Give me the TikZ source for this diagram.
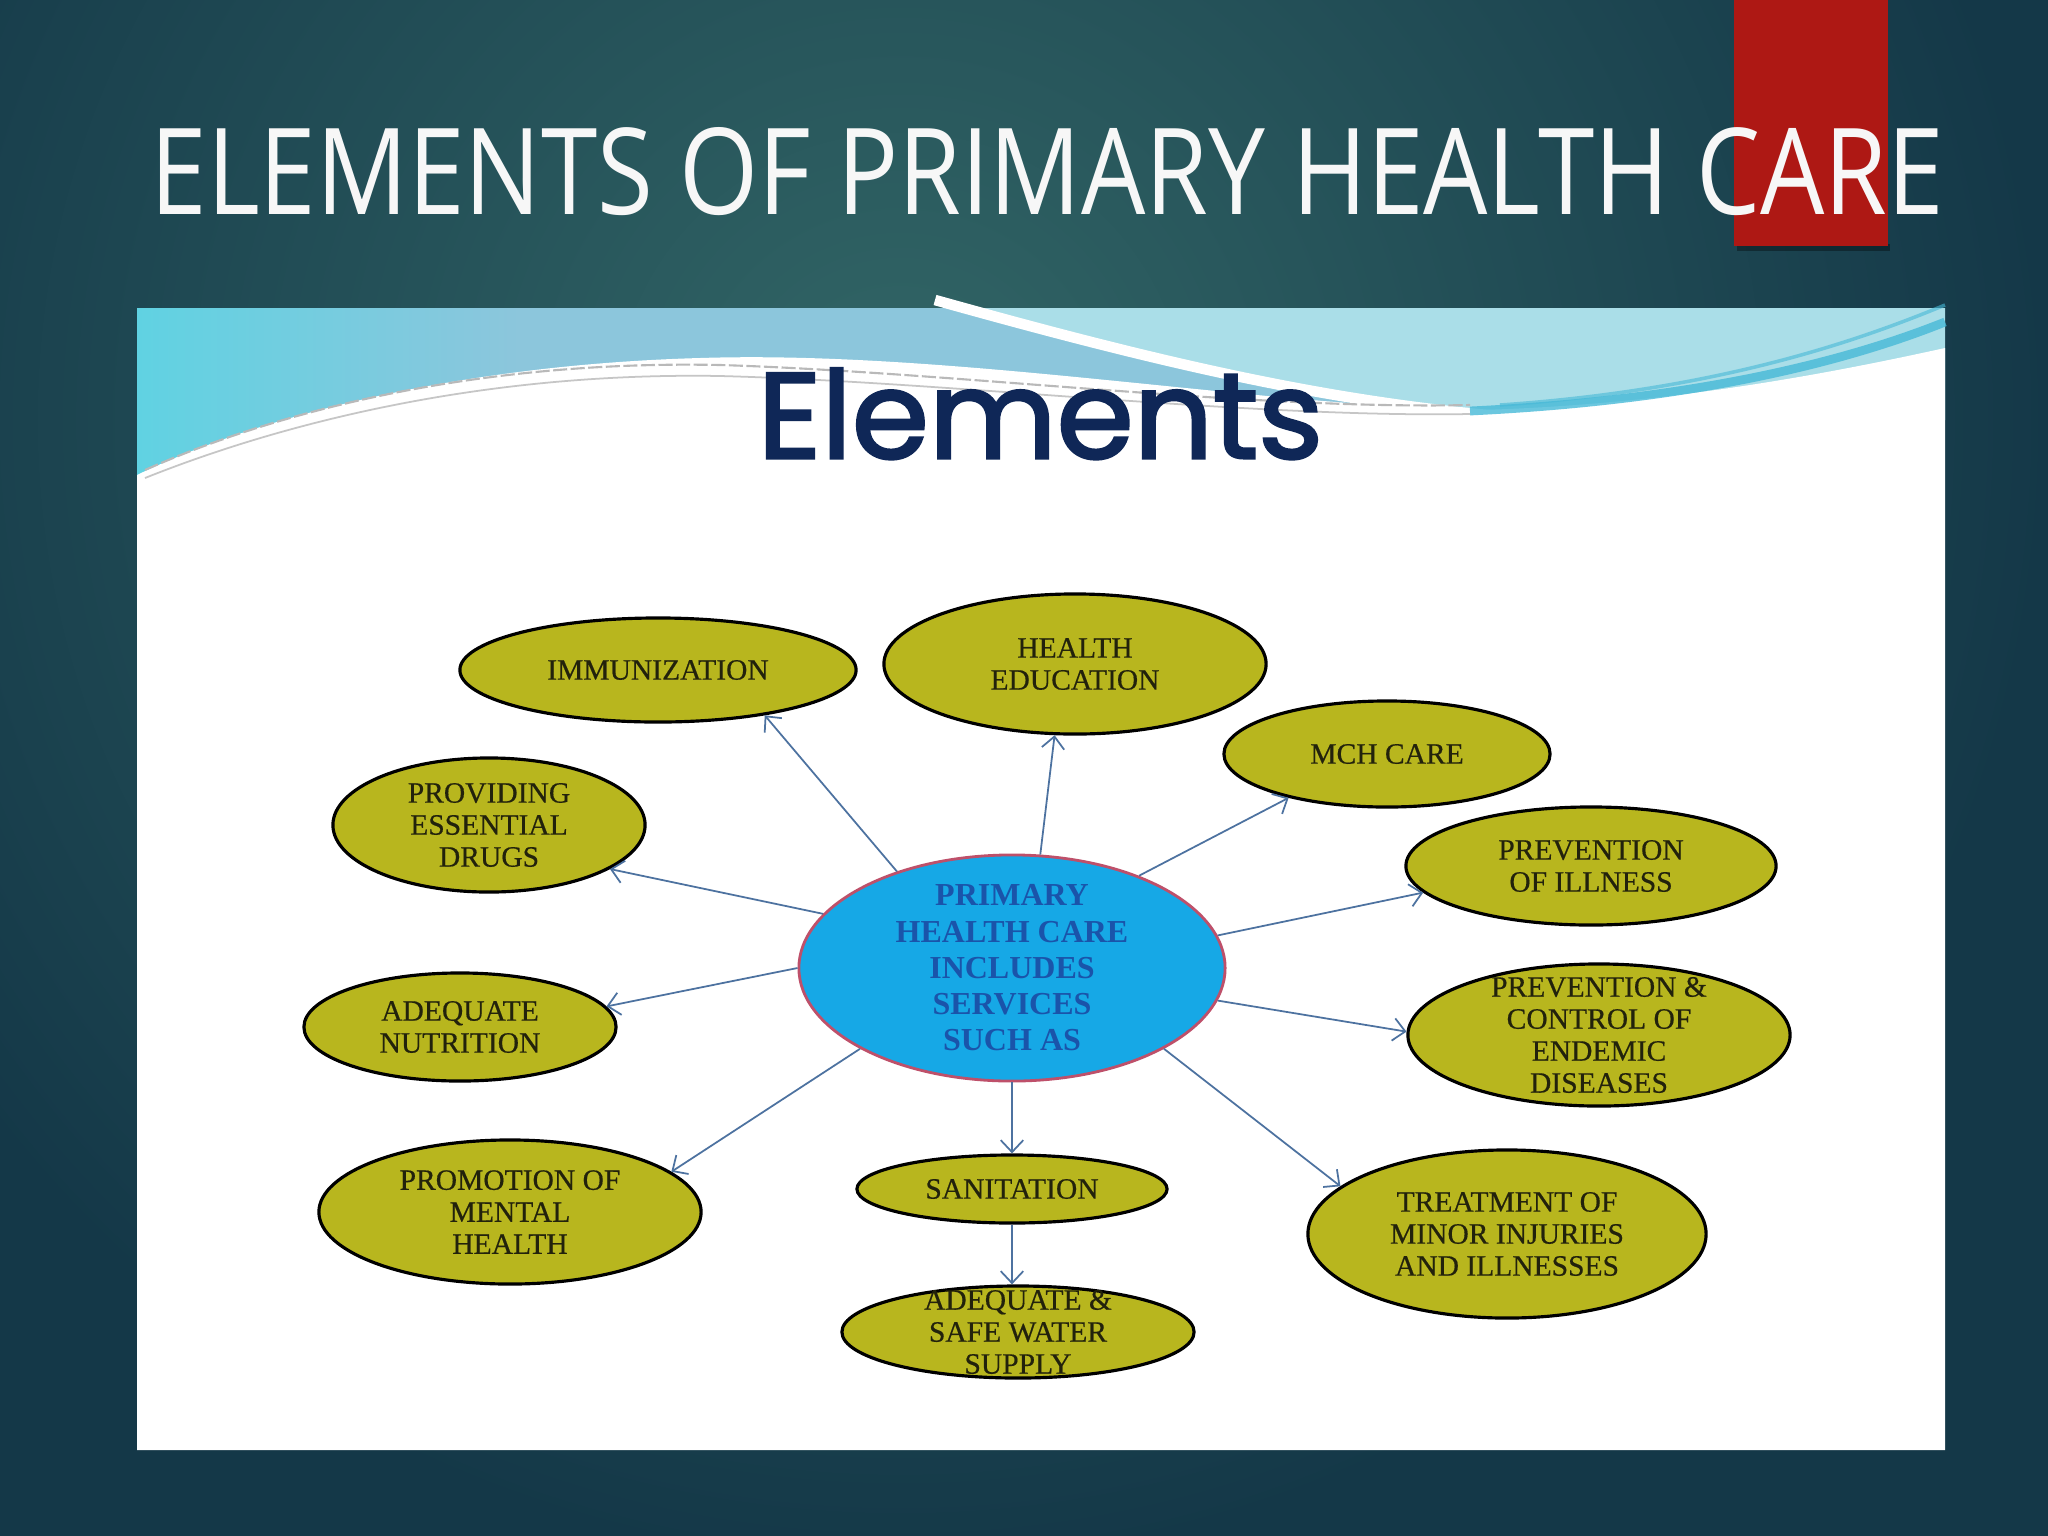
\documentclass[tikz,border=0pt]{standalone}
\usepackage{fontspec}
\setmainfont{Liberation Serif}
\newfontfamily\boxfont{Liberation Serif}[FakeBold=0.5]
\newfontfamily\titlefont{Open Sans}
\newfontfamily\elemfont{Poppins}[FakeBold=2.2]
\usetikzlibrary{shapes.geometric,arrows.meta}
\definecolor{bgdark}{RGB}{20,56,72}
\definecolor{bglight}{RGB}{50,102,102}
\definecolor{redbar}{RGB}{174,24,20}
\definecolor{olive}{RGB}{184,182,30}
\definecolor{cyanfill}{RGB}{22,168,230}
\definecolor{cborder}{RGB}{190,80,106}
\definecolor{ctext}{RGB}{26,84,170}
\definecolor{arrowc}{RGB}{77,114,160}
\definecolor{navy}{RGB}{15,39,87}
\definecolor{waveblue}{RGB}{140,198,220}
\definecolor{wavecyan}{RGB}{170,222,232}
\definecolor{wavetur}{RGB}{96,210,226}
\definecolor{streak}{RGB}{70,185,215}
\definecolor{etext}{RGB}{34,34,12}
\begin{document}
\begin{tikzpicture}[x=0.01cm,y=-0.01cm,
  elem/.style={ellipse,draw=black,line width=0.9pt,fill=olive,inner sep=0pt},
  elabel/.style={inner sep=0pt,align=center,text=etext,font=\fontsize{8.4}{9.1}\boxfont},
  hub/.style={ellipse,draw=cborder,line width=0.8pt,fill=cyanfill,inner sep=0pt},
  hlabel/.style={inner sep=0pt,align=center,text=ctext,font=\fontsize{9.1}{10.3}\selectfont\bfseries},
  link/.style={draw=arrowc,line width=0.5pt,-{Straight Barb[length=3.4pt,width=6.4pt]}}]
\useasboundingbox (0,0) rectangle (2048,1536);
% background
\fill[bgdark] (0,0) rectangle (2048,1536);
\begin{scope}
\clip (0,0) rectangle (2048,1536);
\shade[inner color=bglight,outer color=bgdark] (900,420) circle (1150);
\end{scope}
% red bar
\fill[black,opacity=0.35] (1737,244) rectangle (1890,251);
\fill[redbar] (1734,0) rectangle (1888,246);
% title
\node[anchor=south west,inner sep=0pt,text=white!94!gray] (title) at (150,216)
  {\resizebox{17.92cm}{0.87cm}{\titlefont ELEMENTS OF PRIMARY HEALTH CARE}};
% panel
\fill[waveblue] (137,308) rectangle (1945,1450);
\shade[left color=wavetur,right color=waveblue] (137,308) rectangle (520,480);
\fill[wavecyan] (950,308) .. controls (1150,360) and (1350,410) .. (1560,420) -- (1945,420) -- (1945,308) -- cycle;
\draw[white,line width=3pt] (935,300) .. controls (1150,360) and (1350,410) .. (1560,420);
\fill[white] (137,475) .. controls (250,420) and (450,365) .. (700,358)
  .. controls (950,350) and (1250,405) .. (1480,410)
  .. controls (1650,405) and (1800,380) .. (1945,348) -- (1945,1450) -- (137,1450) -- cycle;
\draw[streak,line width=2.5pt,opacity=0.8] (1470,411) .. controls (1700,400) and (1850,360) .. (1945,322);
\draw[streak,line width=1pt,opacity=0.6] (1500,405) .. controls (1720,390) and (1860,340) .. (1945,305);
\draw[gray!55,line width=0.6pt,dash pattern=on 4pt off 1pt] (145,470) .. controls (280,410) and (480,360) .. (720,365)
  .. controls (950,372) and (1250,410) .. (1470,405);
\draw[gray!45,line width=0.5pt] (145,478) .. controls (290,420) and (490,372) .. (720,376)
  .. controls (950,382) and (1250,418) .. (1470,414);
% heading
\node[anchor=south west,inner sep=0pt,text=navy] (head) at (757,460)
  {\resizebox{5.65cm}{0.9cm}{\elemfont Elements}};
% ellipses
\node[hub,minimum width=4.26cm,minimum height=2.26cm] (hub) at (1012,968) {};
\node[hlabel] (hubt) at (hub) {PRIMARY\\HEALTH CARE\\INCLUDES\\SERVICES\\SUCH AS};
\node[elem,minimum width=3.96cm,minimum height=1.04cm] (imm) at (658,670) {};
\node[elabel] (immt) at (imm) {IMMUNIZATION};
\node[elem,minimum width=3.82cm,minimum height=1.40cm] (he) at (1075,664) {};
\node[elabel] (het) at (he) {HEALTH\\EDUCATION};
\node[elem,minimum width=3.26cm,minimum height=1.06cm] (mch) at (1387,754) {};
\node[elabel] (mcht) at (mch) {MCH CARE};
\node[elem,minimum width=3.70cm,minimum height=1.18cm] (pi) at (1591,866) {};
\node[elabel] (pit) at (pi) {PREVENTION\\OF ILLNESS};
\node[elem,minimum width=3.82cm,minimum height=1.42cm] (pc) at (1599,1035) {};
\node[elabel] (pct) at (pc) {PREVENTION \&\\CONTROL OF\\ENDEMIC\\DISEASES};
\node[elem,minimum width=3.98cm,minimum height=1.68cm] (tr) at (1507,1234) {};
\node[elabel] (trt) at (tr) {TREATMENT OF\\MINOR INJURIES\\AND ILLNESSES};
\node[elem,minimum width=3.10cm,minimum height=0.68cm] (san) at (1012,1189) {};
\node[elabel] (sant) at (san) {SANITATION};
\node[elem,minimum width=3.52cm,minimum height=0.92cm] (wat) at (1018,1332) {};
\node[elabel] (watt) at (wat) {ADEQUATE \&\\SAFE WATER\\SUPPLY};
\node[elem,minimum width=3.82cm,minimum height=1.44cm] (men) at (510,1212) {};
\node[elabel] (ment) at (men) {PROMOTION OF\\MENTAL\\HEALTH};
\node[elem,minimum width=3.12cm,minimum height=1.08cm] (nut) at (460,1027) {};
\node[elabel] (nutt) at (nut) {ADEQUATE\\NUTRITION};
\node[elem,minimum width=3.12cm,minimum height=1.34cm] (drg) at (489,825) {};
\node[elabel] (drgt) at (drg) {PROVIDING\\ESSENTIAL\\DRUGS};
% connectors
\draw[link] (hub.140) -- (imm.-23);
\draw[link] (hub.76) -- (he.254);
\draw[link] (hub.36) -- (mch.204);
\draw[link] (hub.9) -- (pi.189);
\draw[link] (hub.-9) -- (pc.179);
\draw[link] (hub.-28) -- (tr.164);
\draw[link] (hub.south) -- (san.north);
\draw[link] (san.south) -- (san.south |- wat.north);
\draw[link] (hub.208) -- (men.14);
\draw[link] (hub.180) -- (nut.8);
\draw[link] (hub.164) -- (drg.-20);
\end{tikzpicture}
\end{document}
